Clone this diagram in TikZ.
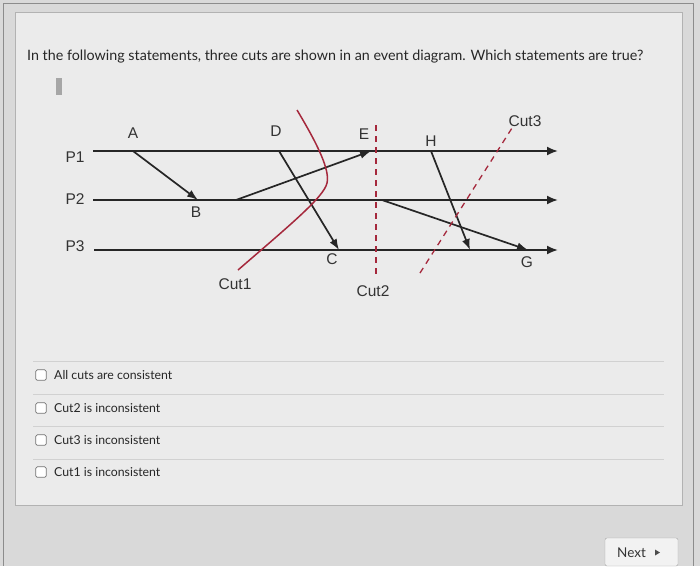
\documentclass[tikz,border=0pt]{standalone}
\usepackage{fontspec}
\setmainfont{Lato}
\newfontfamily\arialfont{Liberation Sans}
\usetikzlibrary{arrows.meta}
\definecolor{cutred}{RGB}{165,40,60}

\begin{document}
\begin{tikzpicture}[x=1pt,y=-1pt]
\tikzstyle{every node}=[inner sep=0pt]
\tikzstyle{proc}=[draw=black!85, line width=1.9pt, -{Latex[length=11pt,width=9pt]}]
\tikzstyle{msg}=[draw=black!85, line width=1.7pt, -{Latex[length=11pt,width=8pt]}]
\tikzstyle{cutline}=[draw=cutred, line width=1.5pt]
\tikzstyle{lbl}=[font=\arialfont\fontsize{15.5}{17}\selectfont, text=black!80]
\tikzstyle{choice}=[font=\fontsize{12.3}{14}\selectfont, text=black!85, anchor=west]
\tikzstyle{sepline}=[draw=black!18, line width=0.9pt]
\tikzstyle{tickbox}=[draw=black!55, fill=white, rounded corners=1.5pt, line width=0.7pt, minimum size=10.5pt]

\useasboundingbox (0,0) rectangle (700,566);
\fill[black!15] (0,0) rectangle (700,566);
\draw[black!45, line width=1pt] (3,3) -- (693,3) -- (693,566);
\draw[black!45, line width=1pt] (3,3) -- (3,566);
\filldraw[fill=black!8, draw=black!30] (15,12) rectangle (682,505);

% question
\node[anchor=west, font=\fontsize{14.3}{16}\selectfont, text=black!85] (q) at (27,57)
  {In the following statements, three cuts are shown in an event diagram. Which statements are true?};
\fill[black!35] (56,78) rectangle (62,95);

% processes
\coordinate (p1s) at (93,151);
\coordinate (p1e) at (558,151);
\coordinate (p2s) at (93,200);
\coordinate (p2e) at (558,200);
\coordinate (p3s) at (94,250);
\coordinate (p3e) at (558,250);
\draw[proc] (p1s) -- (p1e);
\draw[proc] (p2s) -- (p2e);
\draw[proc] (p3s) -- (p3e);
\node[lbl] (l1) at (75,157) {P1};
\node[lbl] (l2) at (75,199) {P2};
\node[lbl] (l3) at (75,246) {P3};

% events
\coordinate (A) at (133,151);
\coordinate (B) at (198,200);
\coordinate (D) at (279,151);
\coordinate (C) at (339,250);
\coordinate (s2) at (236,200);
\coordinate (E) at (371,151);
\coordinate (H) at (431,151);
\coordinate (h3) at (470,250);
\coordinate (f2) at (382,200);
\coordinate (G) at (528,250);
\draw[msg] (A) -- (B);
\draw[msg] (D) -- (C);
\draw[msg] (s2) -- (E);
\draw[msg] (H) -- (h3);
\draw[msg] (f2) -- (G);
\node[lbl] (la) at (133,133) {A};
\node[lbl] (lb) at (196,212) {B};
\node[lbl] (ld) at (276,131) {D};
\node[lbl] (lc) at (332,259) {C};
\node[lbl] (le) at (364,134) {E};
\node[lbl] (lh) at (431,141) {H};
\node[lbl] (lg) at (527,262) {G};

% cuts
\coordinate (c1t) at (297,110);
\coordinate (c1m) at (327,183);
\coordinate (c1b) at (238,270);
\draw[cutline] (c1t) .. controls (318,145) and (330,170) .. (c1m)
  .. controls (324,197) and (290,225) .. (c1b);
\node[lbl] (cut1) at (235,284) {Cut1};
\coordinate (c2t) at (376,125);
\coordinate (c2b) at (376,277);
\draw[cutline, line width=1.3pt, dash pattern=on 6pt off 5pt] (c2t) -- (c2b);
\node[lbl] (cut2) at (373,291) {Cut2};
\coordinate (c3b) at (420,273);
\coordinate (c3t) at (512,128);
\draw[cutline, line width=1.3pt, dash pattern=on 6pt off 5pt] (c3b) -- (c3t);
\node[lbl] (cut3) at (525,121) {Cut3};

% answers
\draw[sepline] (33,361) -- (664,361);
\draw[sepline] (33,394) -- (664,394);
\draw[sepline] (33,426) -- (664,426);
\draw[sepline] (33,459) -- (664,459);
\node[tickbox] (b1) at (41,375) {};
\node[tickbox] (b2) at (41,408) {};
\node[tickbox] (b3) at (41,440) {};
\node[tickbox] (b4) at (41,472) {};
\node[choice] (t1) at (54,375) {All cuts are consistent};
\node[choice] (t2) at (54,408) {Cut2 is inconsistent};
\node[choice] (t3) at (54,440) {Cut3 is inconsistent};
\node[choice] (t4) at (54,472) {Cut1 is inconsistent};

% next button
\filldraw[fill=black!5, draw=black!35, rounded corners=2pt] (605,538) rectangle (678,566);
\node[anchor=west, font=\fontsize{13.5}{15}\selectfont, text=black!80] (next) at (617,553) {Next};
\fill[black!70] (655,549.5) -- (660,552.5) -- (655,555.5) -- cycle;
\end{tikzpicture}
\end{document}
